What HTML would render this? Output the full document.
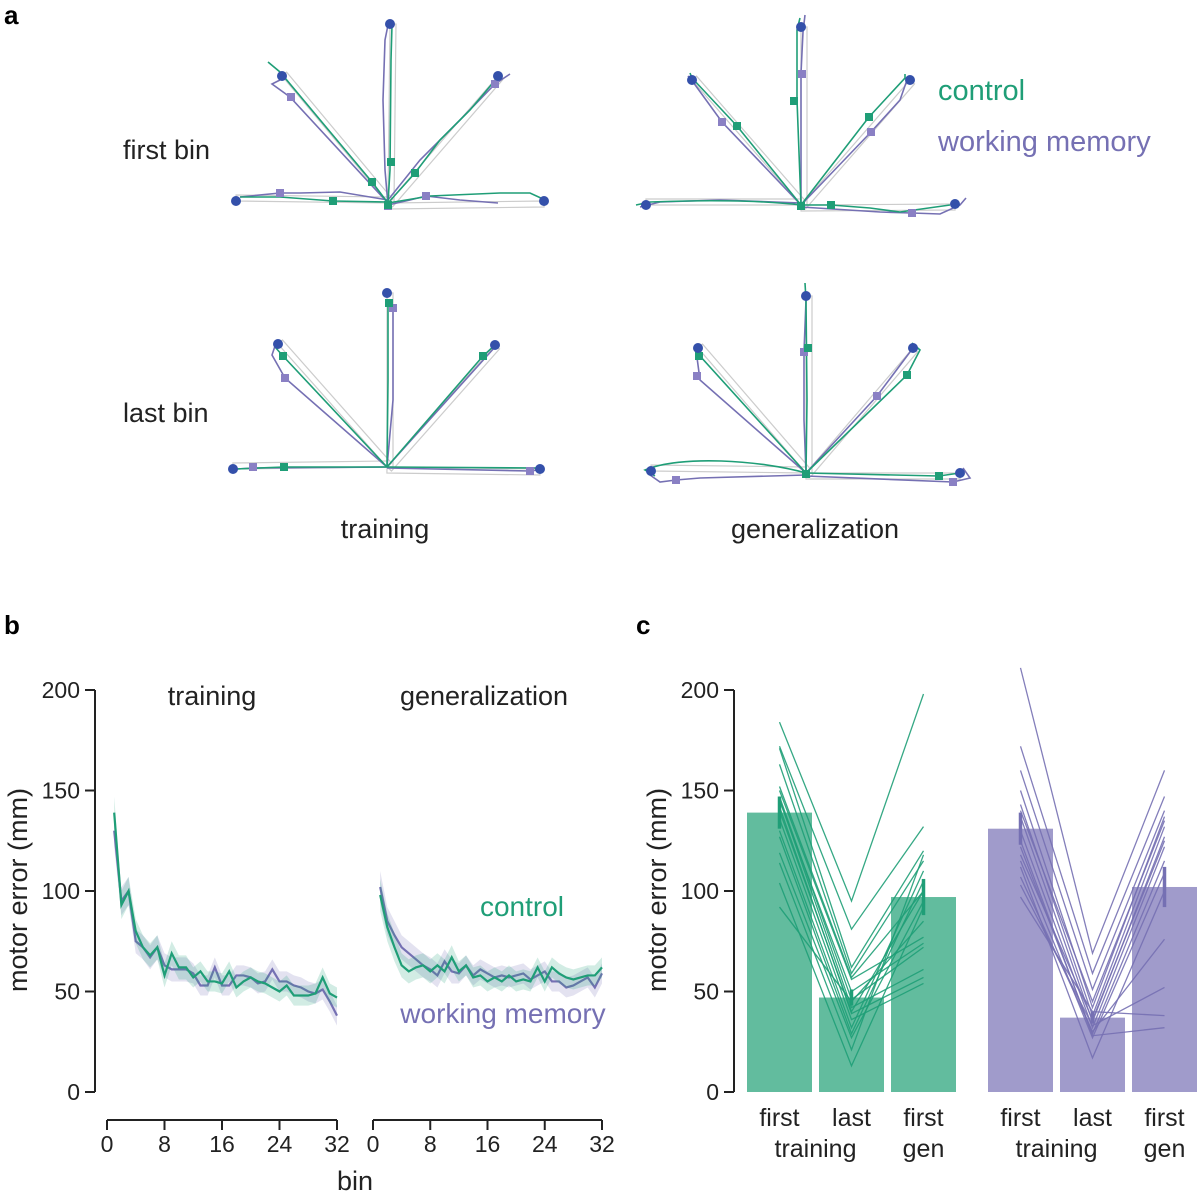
<!DOCTYPE html>
<html><head><meta charset="utf-8"><style>
html,body{margin:0;padding:0;background:#fff;}
svg{display:block;font-family:"Liberation Sans",Arial,sans-serif;}
</style></head><body>
<svg id="fig" width="1200" height="1194" viewBox="0 0 1200 1194" xmlns="http://www.w3.org/2000/svg">
<text x="4" y="24" font-size="26" font-weight="bold">a</text>
<text x="4" y="634" font-size="26" font-weight="bold">b</text>
<text x="636" y="634" font-size="26" font-weight="bold">c</text>
<text x="123" y="159" font-size="27" fill="#222">first bin</text>
<text x="123" y="422" font-size="27" fill="#222">last bin</text>
<text x="385" y="538" font-size="27" fill="#222" text-anchor="middle">training</text>
<text x="815" y="538" font-size="27" fill="#222" text-anchor="middle">generalization</text>
<text x="938" y="100" font-size="29" fill="#1f9e77">control</text>
<text x="938" y="151" font-size="29" fill="#7570b3">working memory</text>
<g id="traj"></g>
<g id="pb"></g>
<g id="pc"></g>
</svg>
<script>
// ===== Panel b data =====
const bins = Array.from({length:32},(_,i)=>i+1);
const trainControl = [139,93,100,80,72,68,72,58,69,62,62,57,60,55,55,54,60,52,55,57,55,54,52,50,53,48,48,48,49,57,49,47];
const trainWM = [130,95,100,75,72,67,72,63,61,61,61,59,53,53,62,53,53,58,58,57,54,55,61,55,55,53,52,50,49,51,45,38];
const genControl = [98,82,72,63,60,62,63,60,63,60,67,60,63,57,58,55,57,55,58,55,56,55,62,55,62,59,57,56,57,58,58,62];
const genWM = [102,85,78,72,69,66,63,61,58,65,60,59,63,58,61,59,57,58,57,58,59,56,58,60,55,55,52,53,55,57,52,59];
const seVals = [8,7,7,6,6,6,6,6,6,6,6,5,5,5,5,5,5,5,5,5,5,5,5,5,5,5,5,5,5,5,5,5];
const yTicks = [0,50,100,150,200];
const xTicks = [0,8,16,24,32];
// ===== Panel c data =====
const conditions = ["first","last","first"];
const barControl = [139,47,97];
const barWM = [131,37,102];
const errControl = [8,4,9];
const errWM = [8,3,10];
const subjControlFirst = [184,172,171,163,152,150,147,146,142,136,130,127,119,114,104,92,145,140];
const subjControlLast  = [95,81,62,59,57,56,46,42,39,36,32,29,27,21,13,45,50,40];
const subjControlGen   = [198,132,120,115,100,77,72,61,57,54,110,105,95,118,92,85,74,100];
const subjWMFirst = [211,172,160,150,143,137,130,122,115,112,107,103,97,125,140,118];
const subjWMLast  = [69,59,51,42,38,35,32,29,27,17,30,33,40,28,45,36];
const subjWMGen   = [160,147,140,137,132,127,122,115,109,100,76,52,38,32,135,125];

const NS="http://www.w3.org/2000/svg";
function mk(parent,tag,attrs){const e=document.createElementNS(NS,tag);for(const k in attrs)e.setAttribute(k,attrs[k]);parent.appendChild(e);return e;}
const G="#1f9e77", P="#7570b3";

// ===== Panel a trajectories =====
const traj=document.getElementById('traj');
const panels=[
 {c:[388,203],t:[[236,201],[282,76],[390,24],[498,76],[544,201]],
  g:["M388,203 L390,170 L391,60 L392,25","M388,203 L372,182 L280,72 L268,62","M388,203 L415,173 L440,140 L470,110 L497,78","M388,202 L333,201 L280,197 L240,197","M388,203 L430,196 L500,193 L530,193 L543,199"],
  p:["M388,205 L385,170 L383,100 L385,40 L388,25","M388,203 L290,97 L272,84 L280,80","M388,200 L420,160 L460,120 L495,84 L510,74","M388,200 L340,192 L300,193 L280,193 L240,197","M388,205 L410,200 L426,196 L460,200 L498,203"],
  gs:[[391,162],[372,182],[415,173],[333,201],[388,205]],ps:[[388,206],[291,97],[495,84],[280,193],[426,196]]},
 {c:[801,205],t:[[646,205],[692,80],[801,27],[910,80],[955,204]],
  g:["M801,205 L797,100 L797,30 L800,18","M801,205 L737,126 L692,78 L690,73","M801,205 L869,117 L905,78 L905,74","M801,205 C760,200 700,200 650,202 L636,205","M801,205 L831,205 L870,208 L900,212 L950,205"],
  p:["M801,205 L801,73 L803,32 L805,15","M801,205 L722,122 L693,82 L688,76","M801,205 L871,132 L900,100 L907,80 L910,77","M801,203 L720,200 L660,202 L640,207","M801,207 L880,212 L912,213 L940,214 L960,205 L966,198"],
  gs:[[794,101],[737,126],[869,117],[831,205],[801,206]],ps:[[802,74],[722,122],[871,132],[912,213]]},
 {c:[387,467],t:[[233,469],[278,344],[387,293],[495,345],[540,469]],
  g:["M387,467 L388,380 L388,300","M387,467 L283,356 L275,347","M387,467 L483,356 L495,345","M387,467 L284,467 L235,469","M387,467 L540,468"],
  p:["M387,467 L393,400 L393,310 L392,307","M387,467 L285,378 L272,355 L276,343","M387,467 L495,347","M387,467 L253,468 L237,469","M387,468 L530,471 L538,470"],
  gs:[[389,303],[283,356],[483,356],[284,467]],ps:[[393,308],[285,378],[253,467],[530,471]]},
 {c:[806,473],t:[[651,471],[698,348],[806,296],[913,348],[960,473]],
  g:["M806,473 L807,400 L806,300 L805,283","M806,473 L700,356 L695,348","M806,473 L907,375 L920,350 L912,343","M806,473 C760,460 680,455 645,470 L655,476","M806,473 L939,476 L960,473"],
  p:["M806,473 L804,420 L804,352 L806,300","M806,473 L700,380 L696,350","M806,473 L877,396 L913,348","M806,475 L700,478 L676,480 L660,482 L650,475","M806,476 L953,482 L970,478 L963,468"],
  gs:[[808,348],[699,356],[907,375],[939,476],[806,474]],ps:[[804,352],[697,376],[877,396],[676,480],[953,482]]}
];
panels.forEach((pn,pi)=>{
  const g=mk(traj,'g',{});
  
  
  pn.t.forEach(t=>{
    const dx=t[0]-pn.c[0],dy=t[1]-pn.c[1],L=Math.hypot(dx,dy),nx=-dy/L*6,ny=dx/L*6;
    const pl=mk(g,'polygon',{points:`${pn.c[0]},${pn.c[1]} ${t[0]},${t[1]} ${t[0]+nx},${t[1]+ny} ${pn.c[0]+nx},${pn.c[1]+ny}`,fill:'none',stroke:'#ccc','stroke-width':1.2});
    
    
  });
  pn.p.forEach(d=>{const e=mk(g,'path',{d:d,fill:'none',stroke:P,'stroke-width':1.6});});
  pn.g.forEach(d=>{const e=mk(g,'path',{d:d,fill:'none',stroke:G,'stroke-width':1.6});});
  pn.ps.forEach(s=>{const e=mk(g,'rect',{x:s[0]-4,y:s[1]-4,width:8,height:8,fill:'#8a80c4'});});
  pn.gs.forEach(s=>{const e=mk(g,'rect',{x:s[0]-4,y:s[1]-4,width:8,height:8,fill:'#1f9e77'});});
  pn.t.forEach(t=>{const e=mk(g,'circle',{cx:t[0],cy:t[1],r:5,fill:'#3450aa'});});
});

// ===== Panel b =====
const pb=document.getElementById('pb');
const yB=v=>1092-v*2.01;
const xTr=b=>107+b*(230/32);
const xGe=b=>373+b*(229/32);
function axisY(parent,x0,labX,name){
  const ax=mk(parent,'g',{});
  
  
  mk(ax,'line',{x1:x0,y1:yB(200),x2:x0,y2:yB(0),stroke:'#222','stroke-width':2});
  yTicks.forEach(v=>{
    mk(ax,'line',{x1:x0-10,y1:yB(v),x2:x0,y2:yB(v),stroke:'#222','stroke-width':2});
    const t=mk(ax,'text',{x:labX,y:yB(v)+8,'font-size':23,'text-anchor':'end',fill:'#222'});t.textContent=v;
    
    
  });
}
axisY(pb,95,80,'y-axis-b');
function axisX(xf,x0,x1,name){
  const ax=mk(pb,'g',{});
  
  
  mk(ax,'line',{x1:x0,y1:1120,x2:x1,y2:1120,stroke:'#222','stroke-width':2});
  xTicks.forEach(v=>{
    mk(ax,'line',{x1:xf(v),y1:1120,x2:xf(v),y2:1130,stroke:'#222','stroke-width':2});
    const t=mk(ax,'text',{x:xf(v),y:1152,'font-size':23,'text-anchor':'middle',fill:'#222'});t.textContent=v;
    
    
  });
}
axisX(xTr,xTr(0),xTr(32),'x-axis-training');
axisX(xGe,xGe(0),xGe(32),'x-axis-generalization');
function series(xf,vals,col,fillc,name){
  const up=bins.map((b,i)=>xf(b)+','+yB(vals[i]+seVals[i])).join(' ');
  const dn=bins.slice().reverse().map(b=>xf(b)+','+yB(vals[b-1]-seVals[b-1])).join(' ');
  const band=mk(pb,'polygon',{points:up+' '+dn,fill:fillc,opacity:0.2});
  
  
  const ln=mk(pb,'polyline',{points:bins.map((b,i)=>xf(b)+','+yB(vals[i])).join(' '),fill:'none',stroke:col,'stroke-width':2.2});
  
  
}
series(xTr,trainWM,P,P,'training-wm');
series(xTr,trainControl,G,G,'training-control');
series(xGe,genWM,P,P,'generalization-wm');
series(xGe,genControl,G,G,'generalization-control');
[[212,705,'training','training-title-b','#222'],[484,705,'generalization','generalization-title-b','#222'],[522,916,'control','control-label-b',G],[503,1023,'working memory','wm-label-b',P],[355,1190,'bin','x-axis-title','#222']].forEach(a=>{
  const t=mk(pb,'text',{x:a[0],y:a[1],'font-size':a[2]=='bin'?27:(a[4]=='#222'?27:28),'text-anchor':'middle',fill:a[4]});t.textContent=a[2];
  
  
});
const yl=mk(pb,'text',{x:0,y:0,'font-size':27,'text-anchor':'middle',fill:'#222',transform:'translate(27,890) rotate(-90)'});yl.textContent='motor error (mm)';



// ===== Panel c =====
const pc=document.getElementById('pc');
axisY(pc,734,719,'y-axis-c');
const yl2=mk(pc,'text',{x:0,y:0,'font-size':27,'text-anchor':'middle',fill:'#222',transform:'translate(666,890) rotate(-90)'});yl2.textContent='motor error (mm)';


const groups=[{x0:747,vals:barControl,err:errControl,bar:'#62bc9e',line:G,s:[subjControlFirst,subjControlLast,subjControlGen],n:'control'},
              {x0:988,vals:barWM,err:errWM,bar:'#a09bcb',line:P,s:[subjWMFirst,subjWMLast,subjWMGen],n:'wm'}];
const bw=65, step=72;
groups.forEach(gr=>{
  const cx=i=>gr.x0+i*step+bw/2;
  gr.vals.forEach((v,i)=>{
    const r=mk(pc,'rect',{x:gr.x0+i*step,y:yB(v),width:bw,height:yB(0)-yB(v),fill:gr.bar});
    
    
  });
  gr.s[0].forEach((f,k)=>{
    const pl=mk(pc,'polyline',{points:[0,1,2].map(i=>cx(i)+','+yB(gr.s[i][k])).join(' '),fill:'none',stroke:gr.line,'stroke-width':1.3,opacity:0.9});
    
    
  });
  gr.vals.forEach((v,i)=>{
    const e=mk(pc,'line',{x1:cx(i),y1:yB(v-gr.err[i]),x2:cx(i),y2:yB(v+gr.err[i]),stroke:gr.line,'stroke-width':3.5});
    
    
    const t=mk(pc,'text',{x:cx(i),y:1126,'font-size':25,'text-anchor':'middle',fill:'#222'});t.textContent=conditions[i];
    
    
  });
  const t1=mk(pc,'text',{x:(cx(0)+cx(1))/2,y:1157,'font-size':25,'text-anchor':'middle',fill:'#222'});t1.textContent='training';
  
  
  const t2=mk(pc,'text',{x:cx(2),y:1157,'font-size':25,'text-anchor':'middle',fill:'#222'});t2.textContent='gen';
  
  
});
</script>
</body></html>
